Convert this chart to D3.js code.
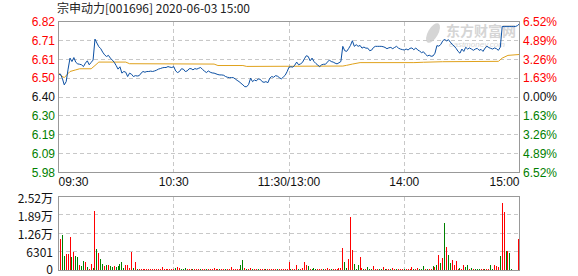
<!DOCTYPE html>
<head>
<meta charset="utf-8">
<script src="https://d3js.org/d3.v7.min.js"></script>
<style>
  body { margin: 0; background: #fff; }
  svg text { font-family: "Liberation Sans", Arial, sans-serif; font-size: 12px; }
  .grid line { stroke: #c8c8c8; stroke-dasharray: 4,3; shape-rendering: crispEdges; }
  .frame { fill: none; stroke: #999; shape-rendering: crispEdges; }
</style>
</head>
<body>
<script>

var title = "宗申动力[001696] 2020-06-03 15:00";
var preClose = 6.40;
var priceLabels = ["6.82", "6.71", "6.61", "6.50", "6.40", "6.30", "6.19", "6.09", "5.98"];
var pctLabels = ["6.52%", "4.89%", "3.26%", "1.63%", "0.00%", "1.63%", "3.26%", "4.89%", "6.52%"];
var timeLabels = ["09:30", "10:30", "11:30/13:00", "14:00", "15:00"];
var volLabels = ["2.52万", "1.89万", "1.26万", "6301", "0"];
var volTicks = [25200, 18900, 12600, 6301, 0];

// one price per minute, 09:30 .. 11:30 / 13:00 .. 15:00
var price = [
  6.522, 6.527, 6.503, 6.467, 6.485, 6.554, 6.615, 6.596, 6.618, 6.592,
  6.583, 6.581, 6.578, 6.568, 6.587, 6.600, 6.578, 6.591, 6.604, 6.720,
  6.698, 6.678, 6.667, 6.648, 6.633, 6.624, 6.630, 6.615, 6.604, 6.592,
  6.574, 6.554, 6.567, 6.532, 6.541, 6.537, 6.513, 6.532, 6.526, 6.513,
  6.518, 6.516, 6.518, 6.532, 6.541, 6.537, 6.541, 6.541, 6.543, 6.541,
  6.544, 6.548, 6.554, 6.557, 6.561, 6.563, 6.563, 6.568, 6.565, 6.563,
  6.568, 6.544, 6.535, 6.541, 6.556, 6.554, 6.541, 6.544, 6.556, 6.557,
  6.550, 6.557, 6.554, 6.559, 6.563, 6.552, 6.543, 6.535, 6.544, 6.537,
  6.533, 6.532, 6.528, 6.524, 6.522, 6.522, 6.520, 6.513, 6.509, 6.507,
  6.507, 6.507, 6.500, 6.492, 6.485, 6.476, 6.467, 6.457, 6.457, 6.470,
  6.504, 6.485, 6.494, 6.489, 6.500, 6.498, 6.485, 6.481, 6.485, 6.479,
  6.504, 6.513, 6.509, 6.518, 6.515, 6.507, 6.500, 6.510, 6.520, 6.540,
  6.565, 6.567, 6.565, 6.576, 6.593, 6.578, 6.583, 6.591, 6.611, 6.628,
  6.624, 6.600, 6.615, 6.596, 6.585, 6.576, 6.568, 6.578, 6.581, 6.581,
  6.593, 6.604, 6.596, 6.593, 6.587, 6.583, 6.589, 6.596, 6.680, 6.656,
  6.652, 6.667, 6.685, 6.711, 6.680, 6.689, 6.680, 6.685, 6.670, 6.676,
  6.670, 6.670, 6.656, 6.659, 6.674, 6.680, 6.680, 6.680, 6.680, 6.678,
  6.674, 6.667, 6.672, 6.674, 6.667, 6.674, 6.680, 6.670, 6.665, 6.662,
  6.660, 6.665, 6.660, 6.669, 6.671, 6.661, 6.671, 6.660, 6.654, 6.645,
  6.650, 6.637, 6.627, 6.631, 6.625, 6.627, 6.642, 6.684, 6.681, 6.690,
  6.709, 6.720, 6.709, 6.717, 6.703, 6.690, 6.681, 6.669, 6.652, 6.642,
  6.665, 6.652, 6.675, 6.665, 6.671, 6.665, 6.658, 6.665, 6.669, 6.658,
  6.663, 6.652, 6.669, 6.681, 6.673, 6.669, 6.665, 6.671, 6.667, 6.658,
  6.675, 6.790, 6.789, 6.789, 6.789, 6.789, 6.789, 6.789, 6.790, 6.795,
  6.805
];

// average price line, read at its break points
var avgMin = [0, 1, 3, 5, 6, 9, 11, 17, 19, 21, 35, 37, 81, 83, 96, 98, 148, 150, 153, 157, 185, 190, 200, 229, 231, 234, 240];
var avgPrice = [6.535, 6.520, 6.507, 6.530, 6.541, 6.550, 6.556, 6.556, 6.574, 6.593, 6.593, 6.584, 6.582, 6.574, 6.574, 6.569, 6.571, 6.575, 6.582, 6.590, 6.590, 6.592, 6.595, 6.597, 6.615, 6.630, 6.635];

var volume = [
  0, 10460, 11830, 4630, 5320, 5320, 11140, 4290, 6000, 4630,
  4290, 1540, 1200, 2910, 2570, 860, 300, 1890, 500, 20060,
  7030, 5660, 3600, 1890, 1200, 1540, 1540, 1200, 860, 1200,
  860, 1200, 1890, 2570, 500, 1500, 1500, 400, 6000, 500,
  2600, 300, 300, 300, 300, 300, 300, 300, 300, 300,
  300, 300, 300, 300, 700, 300, 300, 300, 300, 300,
  300, 500, 860, 500, 300, 300, 500, 300, 300, 300,
  300, 300, 300, 300, 300, 300, 300, 300, 300, 300,
  300, 500, 300, 300, 300, 300, 300, 300, 300, 300,
  860, 300, 300, 300, 300, 1540, 3260, 500, 300, 300,
  500, 300, 300, 300, 300, 300, 300, 300, 300, 300,
  300, 300, 300, 300, 300, 300, 300, 300, 300, 300,
  2570, 300, 300, 300, 1540, 300, 300, 500, 2570, 1540,
  1200, 300, 300, 500, 300, 300, 300, 300, 300, 300,
  500, 300, 300, 300, 300, 300, 500, 500, 7350, 2570,
  500, 3600, 18000, 6700, 1890, 300, 1540, 4290, 500, 300,
  300, 860, 300, 300, 1200, 300, 300, 300, 300, 860,
  300, 300, 300, 300, 500, 300, 300, 300, 300, 300,
  300, 300, 300, 300, 860, 300, 300, 500, 300, 300,
  1200, 300, 300, 300, 300, 1200, 860, 1540, 4970, 2230,
  3940, 15940, 7710, 4970, 2230, 3260, 1540, 2910, 300, 500,
  300, 1540, 860, 1540, 300, 500, 300, 300, 300, 300,
  300, 300, 300, 300, 300, 1540, 300, 1540, 1200, 860,
  4630, 23100, 20000, 6340, 6340, 5800, 300, 0, 0, 0,
  10460
];

// r = up (red), g = down (green), one per minute
var volColor = (
  "rrggrrrgrg" + "grggrgrrgr" + "grggrgrggr" + "gggggrrrrg" +
  "rgrrrrrrrr" + "rrrrrrrrrr" + "rgrrgggrrr" + "grrrgrrgrr" +
  "rrrrgrrgrr" + "rrrrrggrgr" + "rgrrgrrrgr" + "rrrrgrrrrr" +
  "rgrrrgrrrr" + "grggg" + "rrrgr" + "rrgrrrrrrg" + "grrrgggrrg" +
  "rgggrrrggr" + "grrgrrgrrr" + "grrrrgrrgg" + "grgrrgrgrg" +
  "rgrggrrrrg" + "rrggrgrggg" + "rrgrrggrrr" + "grrgrgggrr" +
  "rrrrrrrrrr" + "r"
).split("");

var svg = d3.select("body").append("svg")
    .attr("width", 578)
    .attr("height", 276);

var x = d3.scaleLinear().domain([0, 240]).range([58.5, 519.5]);
var y = d3.scaleLinear()
    .domain([preClose * (1 - 0.0652), preClose * (1 + 0.0652)])
    .range([172.5, 21.5]);
var yv = d3.scaleLinear().domain([0, 25200]).range([269.5, 196.5]);

var priceLevels = d3.range(9).map(function(i) { return y.domain()[1] - i * (y.domain()[1] - y.domain()[0]) / 8; });
var levelColor = function(i) { return i < 4 ? "#ff0000" : (i == 4 ? "#111" : "#008000"); };
var snap = function(v) { return Math.floor(v) + 0.5; };

svg.append("text")
    .attr("x", 57)
    .attr("y", 13)
    .style("font-family", "'Noto Sans CJK SC', sans-serif")
    .style("font-size", "12px")
    .attr("fill", "#222")
    .text(title);

// watermark
var wm = svg.append("g").attr("opacity", 0.35);
wm.append("ellipse")
    .attr("cx", 433).attr("cy", 33).attr("rx", 5).attr("ry", 11)
    .attr("transform", "rotate(30,433,33)")
    .attr("fill", "#888");
wm.append("text")
    .attr("x", 446).attr("y", 36)
    .style("font-family", "'Noto Sans CJK SC', sans-serif")
    .style("font-size", "14px").style("font-weight", "bold")
    .attr("fill", "#888")
    .text("东方财富网");
wm.append("text")
    .attr("x", 449).attr("y", 47)
    .style("font-size", "8px").style("font-style", "italic")
    .attr("fill", "#888")
    .text("eastmoney.com");

// price panel grid
var g1 = svg.append("g").attr("class", "grid");
g1.selectAll(".h")
    .data(priceLevels.slice(1, 8))
  .enter().append("line")
    .attr("x1", 58.5).attr("x2", 519.5)
    .attr("y1", function(d) { return snap(y(d)); })
    .attr("y2", function(d) { return snap(y(d)); });
g1.selectAll(".v")
    .data([60, 120, 180])
  .enter().append("line")
    .attr("x1", function(d) { return snap(x(d)); })
    .attr("x2", function(d) { return snap(x(d)); })
    .attr("y1", 21.5).attr("y2", 172.5);

svg.selectAll(".pl")
    .data(priceLevels)
  .enter().append("text")
    .attr("x", 55)
    .attr("y", function(d) { return y(d) + 4.3; })
    .attr("text-anchor", "end")
    .attr("fill", function(d, i) { return levelColor(i); })
    .text(function(d, i) { return priceLabels[i]; });

svg.selectAll(".pct")
    .data(priceLevels)
  .enter().append("text")
    .attr("x", 523)
    .attr("y", function(d) { return y(d) + 4.3; })
    .attr("fill", function(d, i) { return levelColor(i); })
    .text(function(d, i) { return pctLabels[i]; });

svg.append("path")
    .datum(avgPrice)
    .attr("fill", "none")
    .attr("stroke", "#e0a21c")
    .attr("stroke-width", 1)
    .attr("d", d3.line().x(function(d, i) { return x(avgMin[i]); }).y(function(d) { return y(d); }));

svg.append("path")
    .datum(price)
    .attr("fill", "none")
    .attr("stroke", "#0b4fa3")
    .attr("stroke-width", 1)
    .attr("d", d3.line().x(function(d, i) { return x(i); }).y(function(d) { return y(d); }));

svg.append("rect")
    .attr("class", "frame")
    .attr("x", 58.5).attr("y", 21.5)
    .attr("width", 461).attr("height", 151);

svg.selectAll(".tl")
    .data(timeLabels)
  .enter().append("text")
    .attr("x", function(d, i) { return x(i * 60); })
    .attr("y", 186)
    .attr("text-anchor", function(d, i) { return i == 0 ? "start" : (i == 4 ? "end" : "middle"); })
    .attr("fill", "#111")
    .text(function(d) { return d; });

// volume panel
var g2 = svg.append("g").attr("class", "grid");
g2.selectAll(".h")
    .data(volTicks.slice(1, 4))
  .enter().append("line")
    .attr("x1", 58.5).attr("x2", 519.5)
    .attr("y1", function(d) { return snap(yv(d)); })
    .attr("y2", function(d) { return snap(yv(d)); });
g2.selectAll(".v")
    .data([60, 120, 180])
  .enter().append("line")
    .attr("x1", function(d) { return snap(x(d)); })
    .attr("x2", function(d) { return snap(x(d)); })
    .attr("y1", 196.5).attr("y2", 270.5);

svg.selectAll(".bar")
    .data(volume)
  .enter().append("rect")
    .attr("x", function(d, i) { return Math.min(Math.floor(x(i)), 518); })
    .attr("width", 1)
    .attr("y", function(d) { return Math.round(yv(d)); })
    .attr("height", function(d) { return d > 0 ? 270 - Math.round(yv(d)) : 0; })
    .attr("shape-rendering", "crispEdges")
    .attr("fill", function(d, i) { return volColor[i] == "r" ? "#ff0000" : "#008000"; });

svg.append("rect")
    .attr("class", "frame")
    .attr("x", 58.5).attr("y", 196.5)
    .attr("width", 461).attr("height", 74);

svg.selectAll(".vl")
    .data(volTicks)
  .enter().append("text")
    .attr("x", 53)
    .attr("y", function(d) { return Math.min(yv(d) + 6, 274); })
    .attr("text-anchor", "end")
    .attr("fill", "#111")
    .style("font-family", "'Noto Sans CJK SC', 'Liberation Sans', sans-serif")
    .text(function(d, i) { return volLabels[i]; });

</script>
</body>
